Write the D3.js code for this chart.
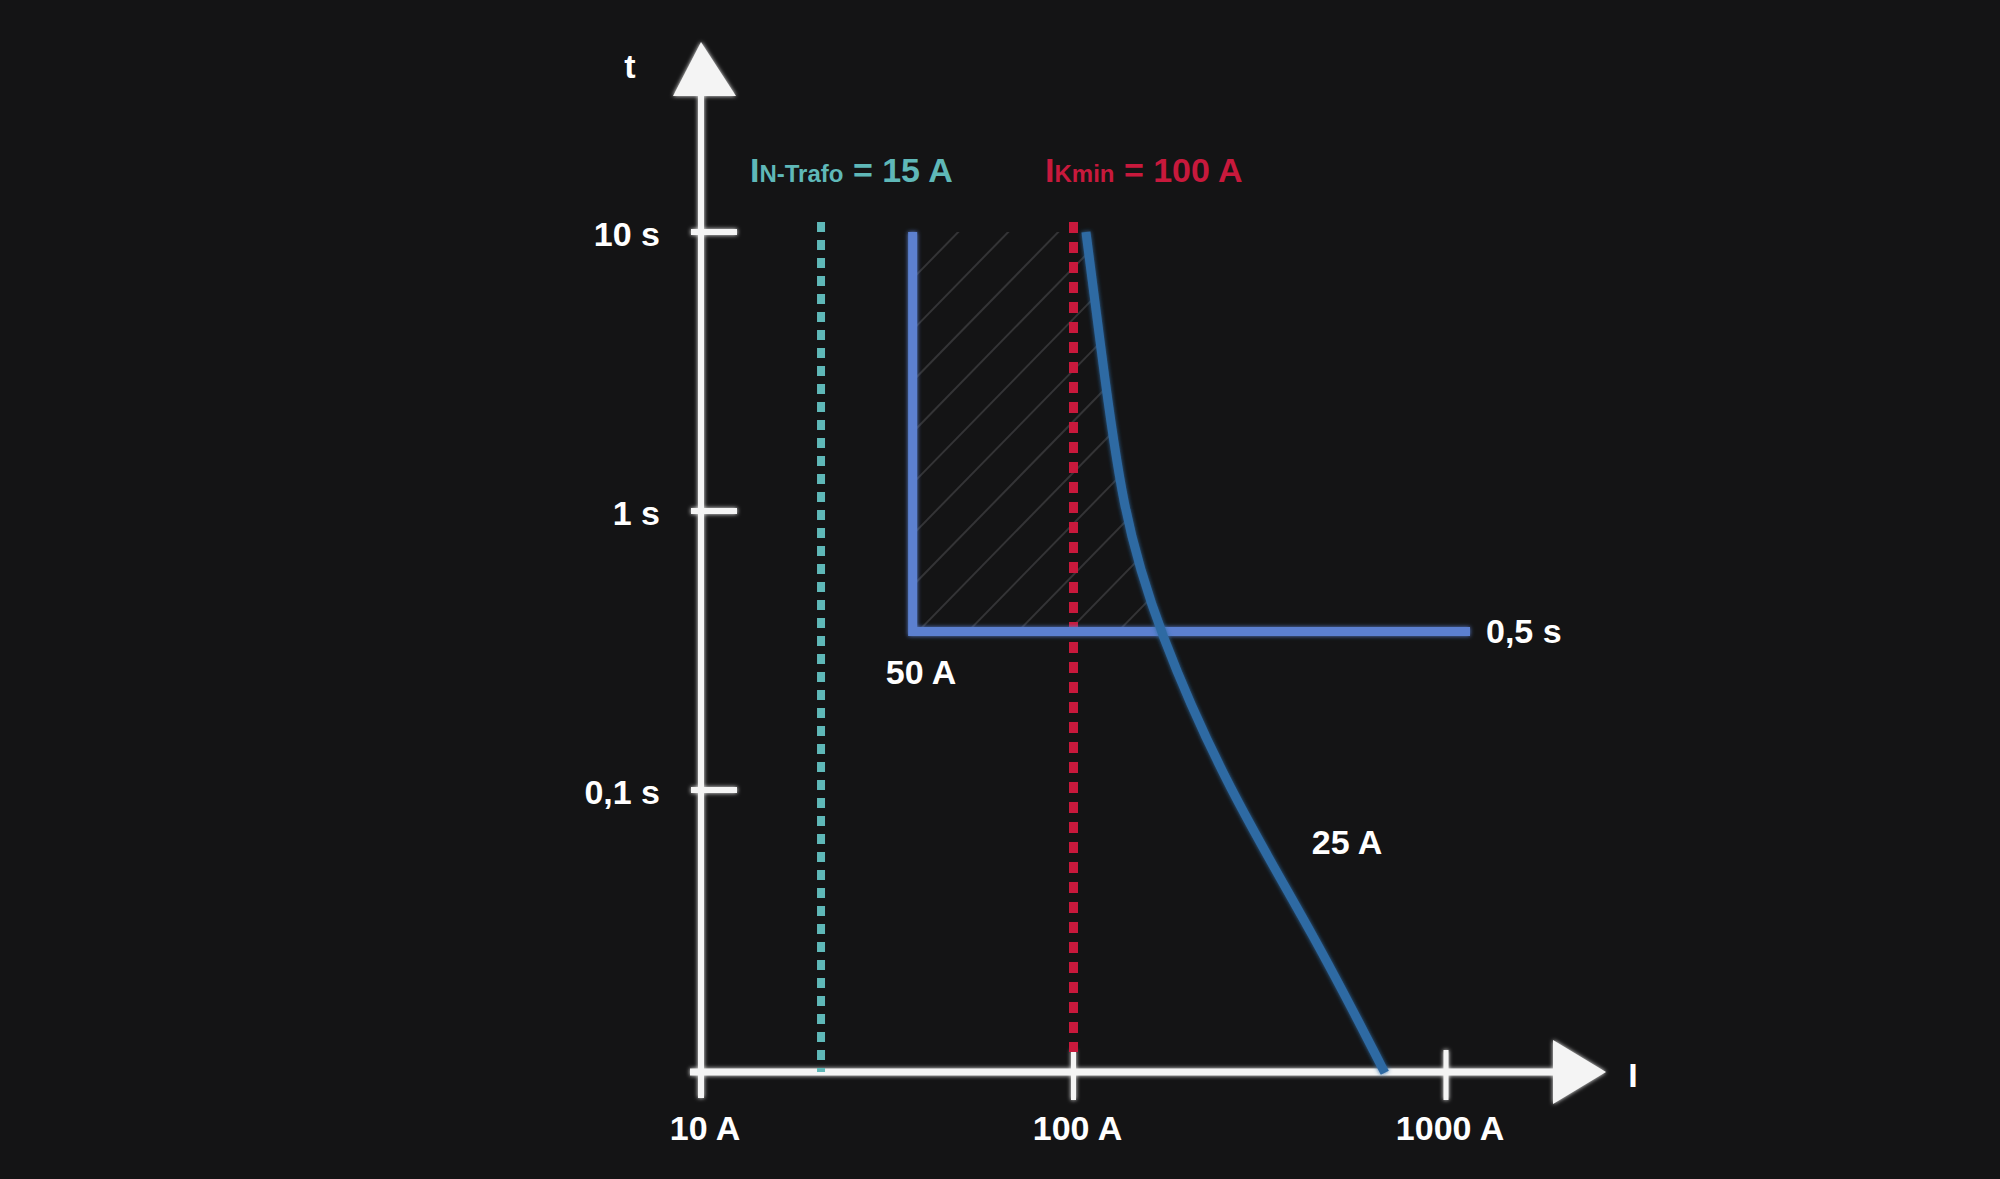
<!DOCTYPE html>
<html><head><meta charset="utf-8">
<script src="https://cdn.jsdelivr.net/npm/d3@7"></script>
<style>body{margin:0;background:#141415}</style></head>
<body><svg id="c" width="2000" height="1179"></svg>
<script>
var xTicks = [10, 100, 1000];
var xTickLabels = ['10 A', '100 A', '1000 A'];
var yTicks = [10, 1, 0.1];
var yTickLabels = ['10 s', '1 s', '0,1 s'];
var trafoI = 21;        // plotted position of I N-Trafo line
var kminI = 100;
var fuse50 = {i: 37, t: 0.37, iEnd: 1160};  // vertical + horizontal branch
var fuse25 = [[108, 10], [118, 4], [135, 1], [169, 0.37], [260, 0.1], [444, 0.03], [685, 0.0097]];

var svg = d3.select('#c');
var x = d3.scaleLog().domain([10, 1000]).range([701, 1446]);
var y = d3.scaleLog().domain([0.01, 10]).range([1069, 232]);
var x0 = x(10), yAxis = 1072;
var font = "'Liberation Sans Narrow','Liberation Sans',Arial,sans-serif";

svg.append('rect').attr('width', 2000).attr('height', 1179).attr('fill', '#141415');

var defs = svg.append('defs');
var f = defs.append('filter').attr('id', 'glow');
f.append('feGaussianBlur').attr('stdDeviation', 2).attr('result', 'b');
var m = f.append('feMerge');
m.append('feMergeNode').attr('in', 'b');
m.append('feMergeNode').attr('in', 'SourceGraphic');

var line = d3.line().x(function (d) { return x(d[0]); }).y(function (d) { return y(d[1]); });

// hatched area between the two fuse curves
var hatchPoly = [[fuse50.i, 10], [fuse50.i, fuse50.t]]
  .concat(fuse25.filter(function (d) { return d[1] >= fuse50.t; }).reverse());
defs.append('clipPath').attr('id', 'hc').append('path').attr('d', line(hatchPoly) + 'Z');
var hg = svg.append('g').attr('clip-path', 'url(#hc)');
for (var k = -20; k < 30; k++) {
  var bx = 900 + k * 50;
  hg.append('line').attr('x1', bx).attr('y1', 650).attr('x2', bx + 420).attr('y2', 220)
    .attr('stroke', '#343436').attr('stroke-width', 2);
}

// axes
var ax = svg.append('g').attr('filter', 'url(#glow)');
ax.append('line').attr('x1', x0).attr('x2', x0).attr('y1', 95).attr('y2', 1098)
  .attr('stroke', '#f4f4f4').attr('stroke-width', 6);
ax.append('path').attr('d', 'M' + x0 + ',42 L' + (x0 + 35) + ',96 L' + (x0 - 28) + ',96 Z').attr('fill', '#f4f4f4');
ax.append('line').attr('x1', 690).attr('x2', 1556).attr('y1', yAxis).attr('y2', yAxis)
  .attr('stroke', '#f4f4f4').attr('stroke-width', 7);
ax.append('path').attr('d', 'M1553,1040 L1606,1072 L1553,1104 Z').attr('fill', '#f4f4f4');
yTicks.forEach(function (t) {
  ax.append('line').attr('x1', x0 - 10).attr('x2', x0 + 36).attr('y1', y(t)).attr('y2', y(t))
    .attr('stroke', '#f4f4f4').attr('stroke-width', 6);
});
xTicks.slice(1).forEach(function (v) {
  ax.append('line').attr('x1', x(v)).attr('x2', x(v)).attr('y1', 1050).attr('y2', 1100)
    .attr('stroke', '#f4f4f4').attr('stroke-width', 5);
});

// dotted reference lines
svg.append('line').attr('x1', x(trafoI)).attr('x2', x(trafoI)).attr('y1', 222).attr('y2', yAxis)
  .attr('stroke', '#5fb8b8').attr('stroke-width', 8).attr('stroke-dasharray', '10,8');
svg.append('line').attr('x1', x(kminI)).attr('x2', x(kminI)).attr('y1', 222).attr('y2', yAxis - 20)
  .attr('stroke', '#c8193c').attr('stroke-width', 9).attr('stroke-dasharray', '11,9');

// fuse curves
svg.append('path')
  .attr('d', line([[fuse50.i, 10], [fuse50.i, fuse50.t], [fuse50.iEnd, fuse50.t]]))
  .attr('fill', 'none').attr('stroke', '#5b80d0').attr('stroke-width', 9).attr('filter', 'url(#glow)');
svg.append('path')
  .attr('d', line.curve(d3.curveBasis)(fuse25))
  .attr('fill', 'none').attr('stroke', '#2f6aa3').attr('stroke-width', 9).attr('filter', 'url(#glow)');

// text
function label(tx, ty, s, anchor, col) {
  return svg.append('text').attr('x', tx).attr('y', ty).attr('text-anchor', anchor || 'middle')
    .attr('dominant-baseline', 'central').attr('fill', col || '#fff')
    .attr('font-family', font).attr('font-weight', 'bold').attr('font-size', 34).text(s);
}
yTicks.forEach(function (t, i) { label(660, y(t) + 2, yTickLabels[i], 'end'); });
xTicks.forEach(function (v, i) { label(x(v) + 4, 1128, xTickLabels[i]); });
label(630, 66, 't');
label(1633, 1075, 'I');
label(921, 672, '50 A');
label(1486, y(fuse50.t), '0,5 s', 'start');
label(1347, 842, '25 A');

function sub(tx, main, subT, rest, col) {
  var t = svg.append('text').attr('x', tx).attr('y', 182).attr('fill', col)
    .attr('font-family', font).attr('font-weight', 'bold').attr('font-size', 34);
  t.append('tspan').text(main);
  t.append('tspan').attr('font-size', 24).text(subT);
  t.append('tspan').text(rest);
}
sub(750, 'I', 'N-Trafo', ' = 15 A', '#5fb8b8');
sub(1045, 'I', 'Kmin', ' = 100 A', '#c8193c');
</script></body></html>
